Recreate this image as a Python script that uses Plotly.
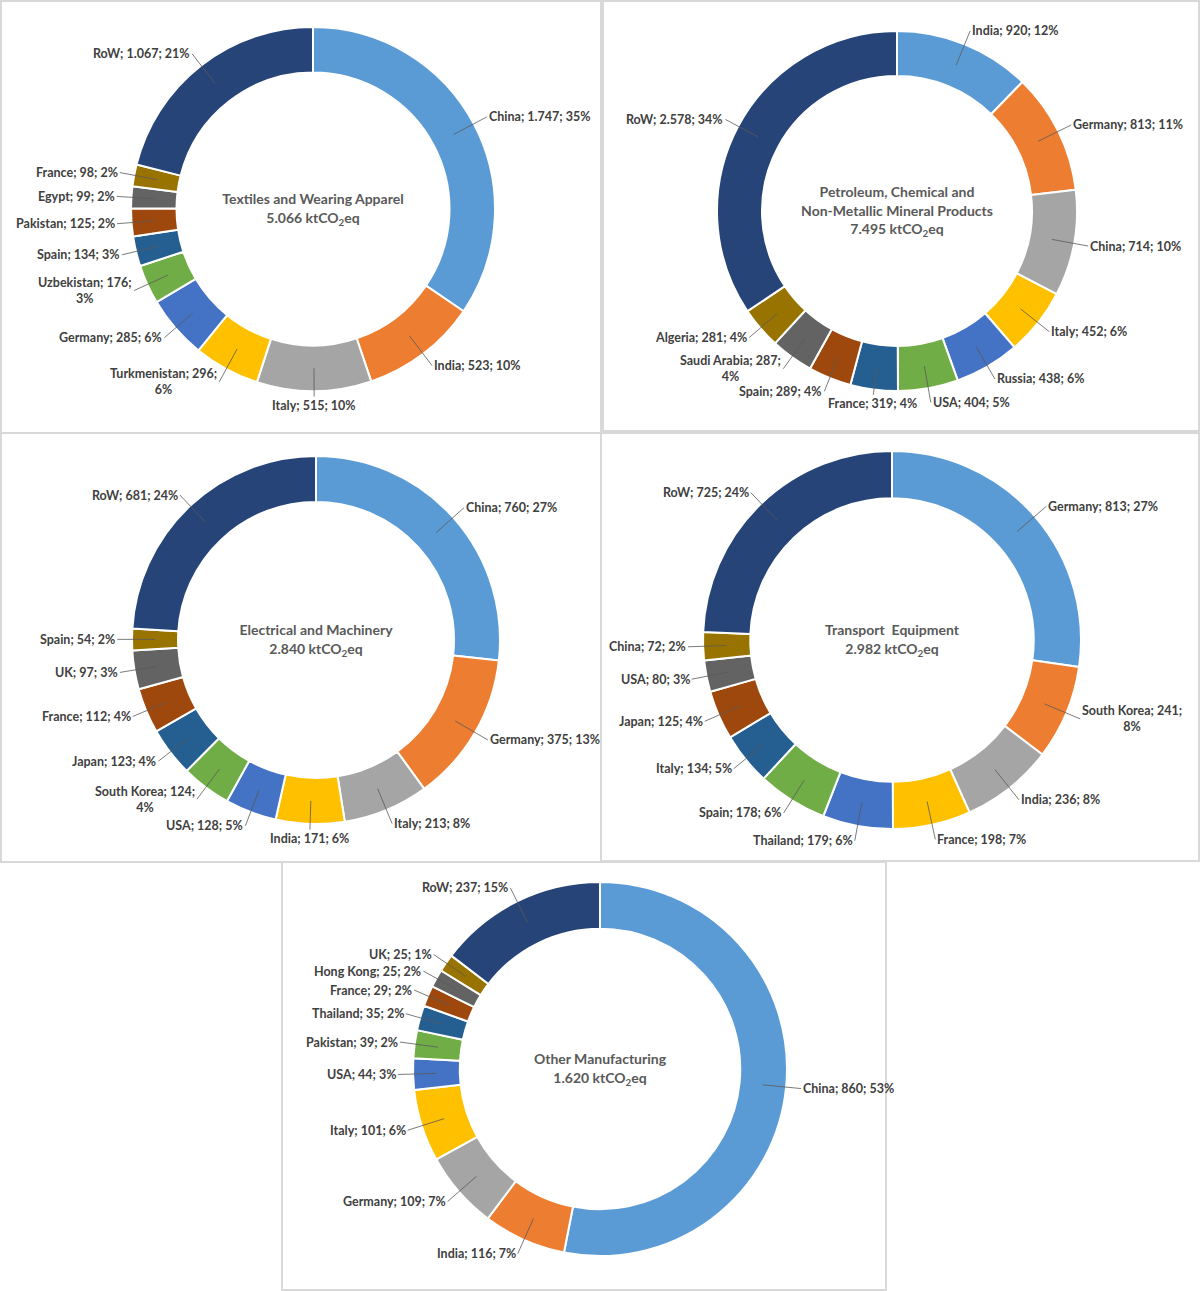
import math
import plotly.graph_objects as go

# Excel-style palette, one colour per slice position
colors = ["#5B9BD5", "#ED7D31", "#A5A5A5", "#FFC000", "#4472C4", "#70AD47",
          "#255E91", "#9E480E", "#636363", "#997300", "#264478"]

# Textiles and Wearing Apparel
tex_countries = ["China", "India", "Italy", "Turkmenistan", "Germany", "Uzbekistan",
                 "Spain", "Pakistan", "Egypt", "France", "RoW"]
tex_values = [1747, 523, 515, 296, 285, 176, 134, 125, 99, 98, 1067]
tex_pct = [35, 10, 10, 6, 6, 3, 3, 2, 2, 2, 21]

# Petroleum, Chemical and Non-Metallic Mineral Products
pet_countries = ["India", "Germany", "China", "Italy", "Russia", "USA", "France",
                 "Spain", "Saudi Arabia", "Algeria", "RoW"]
pet_values = [920, 813, 714, 452, 438, 404, 319, 289, 287, 281, 2578]
pet_pct = [12, 11, 10, 6, 6, 5, 4, 4, 4, 4, 34]

# Electrical and Machinery
ele_countries = ["China", "Germany", "Italy", "India", "USA", "South Korea", "Japan",
                 "France", "UK", "Spain", "RoW"]
ele_values = [760, 375, 213, 171, 128, 124, 123, 112, 97, 54, 681]
ele_pct = [27, 13, 8, 6, 5, 4, 4, 4, 3, 2, 24]

# Transport Equipment
tra_countries = ["Germany", "South Korea", "India", "France", "Thailand", "Spain",
                 "Italy", "Japan", "USA", "China", "RoW"]
tra_values = [813, 241, 236, 198, 179, 178, 134, 125, 80, 72, 725]
tra_pct = [27, 8, 8, 7, 6, 6, 5, 4, 3, 2, 24]

# Other Manufacturing
oth_countries = ["China", "India", "Germany", "Italy", "USA", "Pakistan", "Thailand",
                 "France", "Hong Kong", "UK", "RoW"]
oth_values = [860, 116, 109, 101, 44, 39, 35, 29, 25, 25, 237]
oth_pct = [53, 7, 7, 6, 3, 2, 2, 2, 2, 1, 15]

titles = ["Textiles and Wearing Apparel",
          "Petroleum, Chemical and<br>Non-Metallic Mineral Products",
          "Electrical and Machinery",
          "Transport  Equipment",
          "Other Manufacturing"]
totals = ["5.066", "7.495", "2.840", "2.982", "1.620"]

W, H = 1200, 1291
HOLE = 0.75
# (centre x, centre y, radius) in pixels, and panel frames
pies = [(313, 209, 182), (897, 211, 180), (316, 640, 184), (892, 640, 189), (600, 1069, 187)]
frames = [(1, 1, 601, 433), (603, 1, 1199, 431), (1, 433, 601, 862),
          (601, 433, 1199, 861), (282, 862, 886, 1290)]

datasets = [(tex_countries, tex_values, tex_pct),
            (pet_countries, pet_values, pet_pct),
            (ele_countries, ele_values, ele_pct),
            (tra_countries, tra_values, tra_pct),
            (oth_countries, oth_values, oth_pct)]


def make_label(name, value, pct):
    txt = f"{name}; {value:,}".replace(",", ".") + f"; {pct}%"
    if len(txt) >= 19:
        txt = txt.rsplit(" ", 1)[0] + "<br>" + f"{pct}%"
    return txt


fig = go.Figure()
for (names, vals, pcts), (cx, cy, r), title, total in zip(datasets, pies, titles, totals):
    fig.add_trace(go.Pie(
        labels=names, values=vals,
        textinfo="none",
        hoverinfo="label+value+percent",
        sort=False, direction="clockwise", rotation=0, hole=HOLE,
        marker=dict(colors=colors, line=dict(color="white", width=2)),
        title=dict(text=f"{title}<br>{total} ktCO<sub>2</sub>eq", position="middle center",
                   font=dict(family="Lato", size=14, color="#595959", weight="bold")),
        domain=dict(x=[(cx - r) / W, (cx + r) / W], y=[1 - (cy + r) / H, 1 - (cy - r) / H]),
        showlegend=False,
    ))

    # outside data labels with leader lines, placed at each slice's mid angle
    tot = sum(vals)
    cum = 0
    for n, v, p in zip(names, vals, pcts):
        ang = (cum + v / 2) / tot * 2 * math.pi
        cum += v
        s, c = math.sin(ang), math.cos(ang)
        hx, hy = cx + r * (1 + HOLE) / 2 * s, cy - r * (1 + HOLE) / 2 * c
        tx, ty = cx + r * 1.08 * s, cy - r * 1.08 * c
        xa = "left" if s > 0.15 else ("right" if s < -0.15 else "center")
        fig.add_annotation(
            x=hx / W, y=1 - hy / H, xref="paper", yref="paper",
            ax=tx - hx, ay=ty - hy, axref="pixel", ayref="pixel",
            text=make_label(n, v, p), showarrow=True, arrowhead=0,
            arrowwidth=0.8, arrowcolor="#595959", standoff=0,
            xanchor=xa, yanchor="middle", align="center",
            font=dict(family="Lato", size=12.5, color="#404040", weight="bold"),
        )

for x0, y0, x1, y1 in frames:
    fig.add_shape(type="rect", xref="paper", yref="paper",
                  x0=x0 / W, x1=x1 / W, y0=1 - y1 / H, y1=1 - y0 / H,
                  line=dict(color="#D9D9D9", width=2), fillcolor="rgba(0,0,0,0)")

fig.update_layout(width=W, height=H, margin=dict(l=0, r=0, t=0, b=0),
                  paper_bgcolor="white", plot_bgcolor="white",
                  font=dict(family="Lato", color="#404040"))

fig.write_html("out.html", config={"displayModeBar": False},
               post_script="document.body.style.margin='0';")
